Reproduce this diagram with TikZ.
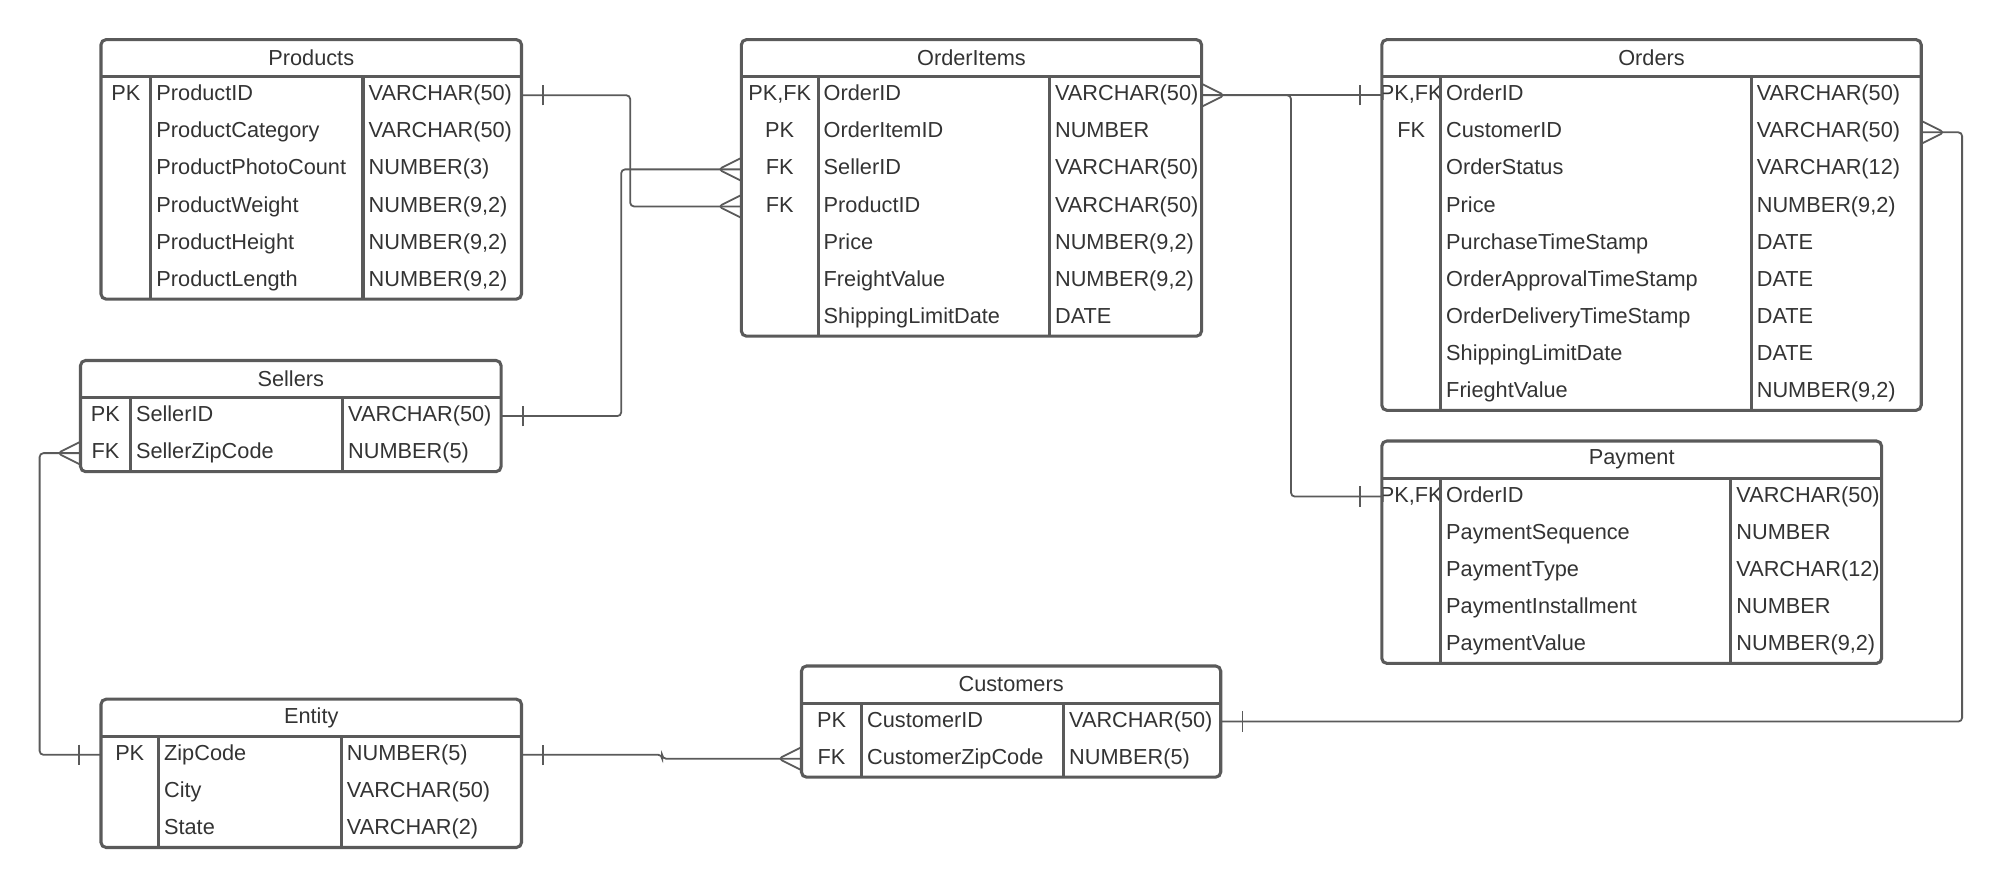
\documentclass[tikz,border=0pt]{standalone}
\usepackage{fontspec}
\setmainfont{Liberation Sans}
\usepackage{tikz}
\usetikzlibrary{positioning,decorations.markings}

\definecolor{linegray}{HTML}{5A5A5A}
\definecolor{textgray}{HTML}{333333}

\tikzset{
  tablebox/.style={draw=linegray,line width=1.2pt,rounded corners=2pt},
  tableline/.style={draw=linegray,line width=1.2pt},
  titletext/.style={text=textgray,font=\fontsize{8.5}{10}\selectfont,inner sep=0pt},
  keytext/.style={text=textgray,font=\fontsize{8.5}{10}\selectfont,inner sep=0pt,
    text height=6.3pt,text depth=1.9pt},
  fieldtext/.style={text=textgray,font=\fontsize{8.5}{10}\selectfont,inner sep=2pt,
    text height=6.3pt,text depth=1.9pt},
  rel/.style={draw=linegray,line width=0.7pt,rounded corners=1.5pt},
  one start/.style={postaction={decorate,decoration={markings,
      mark=at position 8.5pt with {\draw[rel] (0,-4pt)--(0,4pt);}}}},
  one end/.style={postaction={decorate,decoration={markings,
      mark=at position -8.5pt with {\draw[rel] (0,-4pt)--(0,4pt);}}}},
  many start/.style={postaction={decorate,decoration={markings,
      mark=at position 9pt with {\draw[rel] (-9pt,4.5pt)--(0,0)--(-9pt,-4.5pt);}}}},
  many end/.style={postaction={decorate,decoration={markings,
      mark=at position -9pt with {\draw[rel] (9pt,4.5pt)--(0,0)--(9pt,-4.5pt);}}}}
}

% id, left, right, top, divider 1, divider 2, title, rows
\newcommand{\ertable}[8]{%
  \foreach \k/\f/\t [count=\i] in {#8}{
    \pgfmathsetmacro{\ry}{#4+29*\i+14.5}
    \node[keytext] (#1-k\i) at ({(#2+#5)/2},\ry) {\k};
    \node[fieldtext,anchor=west] (#1-f\i) at (#5,\ry) {\f};
    \node[fieldtext,anchor=west] (#1-t\i) at (#6,\ry) {\t};
    \coordinate (#1-L\i) at (#2,\ry);
    \coordinate (#1-R\i) at (#3,\ry);
    \xdef\nrows{\i}
  }
  \pgfmathsetmacro{\rb}{#4+29*(\nrows+1)}
  \draw[tablebox] (#2,#4) rectangle (#3,\rb);
  \draw[tableline] (#2,#4+29) -- (#3,#4+29) (#5,#4+29) -- (#5,\rb) (#6,#4+29) -- (#6,\rb);
  \node[titletext] (#1) at ({(#2+#3)/2},#4+14.5) {#7};
}

\begin{document}
\begin{tikzpicture}[x=0.5pt,y=-0.5pt]
  \useasboundingbox (0,0) rectangle (1567,696);

  \ertable{Products}{79}{408}{31}{118}{284}{Products}{
    PK/ProductID/{VARCHAR(50)}, /ProductCategory/{VARCHAR(50)},
    /ProductPhotoCount/{NUMBER(3)}, /ProductWeight/{NUMBER(9,2)},
    /ProductHeight/{NUMBER(9,2)}, /ProductLength/{NUMBER(9,2)}}
  \ertable{OrderItems}{580}{940}{31}{640}{821}{OrderItems}{
    {PK,FK}/OrderID/{VARCHAR(50)}, PK/OrderItemID/NUMBER,
    FK/SellerID/{VARCHAR(50)}, FK/ProductID/{VARCHAR(50)},
    /Price/{NUMBER(9,2)}, /FreightValue/{NUMBER(9,2)},
    /ShippingLimitDate/DATE}
  \ertable{Orders}{1081}{1503}{31}{1127}{1370}{Orders}{
    {PK,FK}/OrderID/{VARCHAR(50)}, FK/CustomerID/{VARCHAR(50)},
    /OrderStatus/{VARCHAR(12)}, /Price/{NUMBER(9,2)},
    /PurchaseTimeStamp/DATE, /OrderApprovalTimeStamp/DATE,
    /OrderDeliveryTimeStamp/DATE, /ShippingLimitDate/DATE,
    /FrieghtValue/{NUMBER(9,2)}}
  \ertable{Payment}{1081}{1472}{345}{1127}{1354}{Payment}{
    {PK,FK}/OrderID/{VARCHAR(50)}, /PaymentSequence/NUMBER,
    /PaymentType/{VARCHAR(12)}, /PaymentInstallment/NUMBER,
    /PaymentValue/{NUMBER(9,2)}}
  \ertable{Sellers}{63}{392}{282}{102}{268}{Sellers}{
    PK/SellerID/{VARCHAR(50)}, FK/SellerZipCode/{NUMBER(5)}}
  \ertable{Customers}{627}{955}{521}{674}{832}{Customers}{
    PK/CustomerID/{VARCHAR(50)}, FK/CustomerZipCode/{NUMBER(5)}}
  \ertable{Entity}{79}{408}{547}{124}{267}{Entity}{
    PK/ZipCode/{NUMBER(5)}, /City/{VARCHAR(50)}, /State/{VARCHAR(2)}}

  % relationships
  \draw[rel,one start,many end] (Products-R1) -- ++(85,0) |- (OrderItems-L4);
  \draw[rel,one start,many end] (Sellers-R1) -- ++(94,0) |- (OrderItems-L3);
  \draw[rel,many start,one end] (OrderItems-R1) -- (Orders-L1);
  \draw[rel,one end] (OrderItems-R1) -- ++(70,0) |- (Payment-L1);
  \draw[rel,many start,one end] (Orders-R2) -- ++(32,0) |- (Customers-R1);
  \draw[rel,one start,many end] (Entity-R1) -- ++(110,0) |- (Customers-L2);
  \draw[rel,one start,many end] (Entity-L1) -- ++(-48,0) |- (Sellers-L2);
\end{tikzpicture}
\end{document}
